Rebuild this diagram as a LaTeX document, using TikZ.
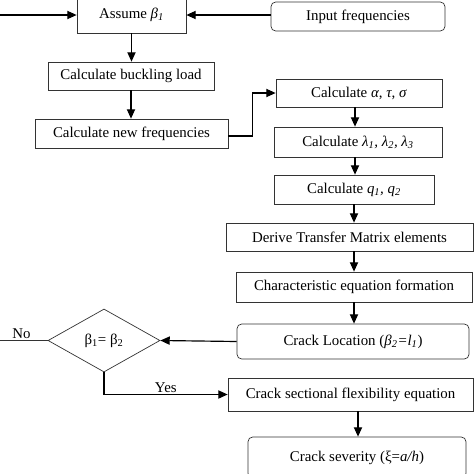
\documentclass[tikz,border=0pt]{standalone}
\usepackage{fontspec}
\setmainfont{Liberation Serif}
\usepackage{tikz}
\usetikzlibrary{shapes.geometric,arrows.meta}

\tikzset{
    box/.style={draw=black!80,line width=0.6pt,rectangle,inner sep=0pt,font=\fontsize{12.7}{15}\selectfont},
    rbox/.style={box,rounded corners=4pt},
    decision/.style={draw=black!80,line width=0.6pt,diamond,inner sep=0pt,aspect=1.78,
        minimum width=3.36cm,minimum height=1.89cm,font=\fontsize{12.7}{15}\selectfont},
    flow/.style={line width=1pt,-{Triangle[length=8pt,width=7pt]}},
    plain/.style={line width=0.8pt,black!80}
}

\begin{document}
\begin{tikzpicture}[x=0.03cm,y=-0.03cm]
    \useasboundingbox (0,0) rectangle (474,474);
    \clip (0,0) rectangle (474,474);
    \node[box,minimum width=3.27cm,minimum height=1.08cm] (assume) at (131.5,15) {Assume \textit{β\textsubscript{1}}};
    \node[rbox,minimum width=5.22cm,minimum height=0.87cm] (input) at (358,16.5) {Input frequencies};
    \node[box,minimum width=4.98cm,minimum height=0.84cm] (buckling) at (131,76) {Calculate buckling load};
    \node[box,minimum width=5.79cm,minimum height=0.87cm] (newfreq) at (131.5,133.5) {Calculate new frequencies};
    \node[box,minimum width=4.98cm,minimum height=0.84cm] (abc) at (359,93) {Calculate \textit{α}, \textit{τ}, \textit{σ}};
    \node[box,minimum width=5.04cm,minimum height=0.90cm] (lambda) at (358,142) {Calculate \textit{λ\textsubscript{1}, λ\textsubscript{2}, λ\textsubscript{3}}};
    \node[box,minimum width=4.80cm,minimum height=0.87cm] (q) at (354,189.5) {Calculate \textit{q\textsubscript{1}, q\textsubscript{2}}};
    \node[box,minimum width=7.41cm,minimum height=0.84cm] (derive) at (349.5,237) {Derive Transfer Matrix elements};
    \node[box,minimum width=7.08cm,minimum height=0.90cm] (charac) at (354,287) {Characteristic equation formation};
    \node[rbox,minimum width=6.96cm,minimum height=1.05cm] (location) at (353,341.5) {Crack Location (\textit{β\textsubscript{2}=l\textsubscript{1}})};
    \node[decision] (check) at (104,340.5) {β\textsubscript{1}= β\textsubscript{2}};
    \node[box,minimum width=7.35cm,minimum height=0.99cm] (flex) at (350.5,394.5) {Crack sectional flexibility equation};
    \node[rbox,minimum width=6.54cm,minimum height=1.23cm] (severity) at (357,457.5) {Crack severity (ξ=\textit{a/h})};
    \coordinate (loopin) at (0,15);
    \coordinate (noout) at (0,340.5);

    \draw[flow] (loopin) -- (assume.west);
    \draw[flow] (input.west |- assume.east) -- (assume.east);
    \draw[flow] (assume.south) -- (assume.south |- buckling.north);
    \draw[flow] (buckling.south) -- (buckling.south |- newfreq.north);
    \draw[flow] ([yshift=-2.5*0.03cm]newfreq.east) -- ++(24,0) |- (abc.west);
    \draw[flow] ([xshift=-4*0.03cm]abc.south) -- ([xshift=-4*0.03cm]abc.south |- lambda.north);
    \draw[flow] ([xshift=-3*0.03cm]lambda.south) -- ([xshift=-3*0.03cm]lambda.south |- q.north);
    \draw[flow] (q.south) -- (q.south |- derive.north);
    \draw[flow] (charac.south |- derive.south) -- (charac.north);
    \draw[flow] (charac.south) -- (charac.south |- location.north);
    \draw[flow] (location.west) -- (check.east);
    \draw[plain] (check.west) -- (noout) node[pos=0.55,above,inner sep=1pt,black,font=\fontsize{12.7}{15}\selectfont] {No};
    \draw[flow] (check.south) |- (flex.west) node[pos=0.75,above,inner sep=1pt,font=\fontsize{12.7}{15}\selectfont] {Yes};
    \draw[flow] ([xshift=7.5*0.03cm]flex.south) -- ([xshift=7.5*0.03cm]flex.south |- severity.north);
\end{tikzpicture}
\end{document}
